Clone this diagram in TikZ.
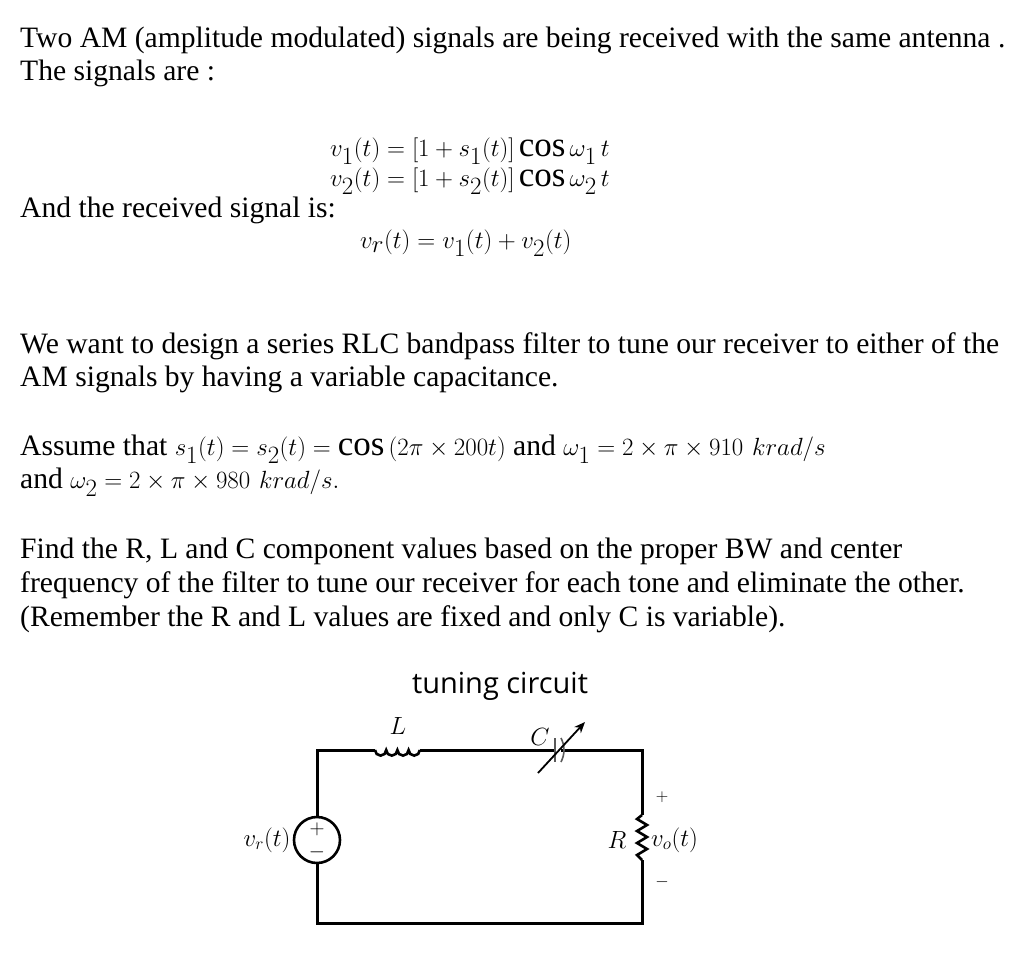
\documentclass[tikz,border=0pt]{standalone}
\usepackage{fontspec}
\setmainfont{Liberation Serif}
\newfontfamily\titlefont{Open Sans}
\usetikzlibrary{arrows.meta}
\newcommand{\bm}[1]{{\fontsize{35}{38}\selectfont$#1$}}
\newcommand{\mycos}{\mathop{\mathrm{cos}}}
\begin{document}
\begin{tikzpicture}[x=1pt,y=-1pt,
  txt/.style={anchor=west,inner sep=0pt,font=\fontsize{29.6}{33}\selectfont},
  wire/.style={line width=3pt},
  comp/.style={line width=2.6pt}]
\useasboundingbox (0,0) rectangle (1024,953);
\node[txt] (l1) at (20,40) {Two AM (amplitude modulated) signals are being received with the same antenna .};
\node[txt] (l2) at (20,73) {The signals are :};
\node[txt] (e1) at (330,151) {\bm{v_1(t)=[1+s_1(t)]\mycos\omega_1\, t}};
\node[txt] (e2) at (330,181) {\bm{v_2(t)=[1+s_2(t)]\mycos\omega_2\, t}};
\node[txt] (l3) at (20,210) {And the received signal is:};
\node[txt] (e3) at (360,243) {\bm{v_r(t)=v_1(t)+v_2(t)}};
\node[txt] (l4) at (20,346) {We want to design a series RLC bandpass filter to tune our receiver to either of the};
\node[txt] (l5) at (20,379) {AM signals by having a variable capacitance.};
\node[txt] (l6) at (20,449) {Assume that \bm{s_1(t)=s_2(t)=\mycos\,(2\pi\times200t)} and \bm{\omega_1=2\times\pi\times910\ krad/s}};
\node[txt] (l7) at (20,482) {and \bm{\omega_2=2\times\pi\times980\ krad/s.}};
\node[txt] (l8) at (20,551) {Find the R, L and C component values based on the proper BW and center};
\node[txt] (l9) at (20,585) {frequency of the filter to tune our receiver for each tone and eliminate the other.};
\node[txt] (l10) at (20,619) {(Remember the R and L values are fixed and only C is variable).};
\node[inner sep=0pt,font=\titlefont\fontsize{29}{32}\selectfont] (title) at (500,686) {tuning circuit};
% circuit
\coordinate (tl) at (317,750); \coordinate (tr) at (642,750);
\coordinate (bl) at (317,923); \coordinate (br) at (642,923);
\node[draw,circle,comp,minimum size=46pt,inner sep=0pt] (src) at (317,840) {};
\node[font=\fontsize{20}{22}\selectfont,inner sep=0pt] at (317,829) {$+$};
\node[font=\fontsize{20}{22}\selectfont,inner sep=0pt] at (317,852) {$-$};
\node[anchor=east,inner sep=2pt,font=\fontsize{27}{28}\selectfont] (vr) at (src.west) {$v_r(t)$};
\draw[wire] (src.north) -- (tl) -- (375,750);
\draw[comp] (375,750) arc[start angle=180,end angle=0,radius=5.6]
  arc[start angle=180,end angle=0,radius=5.6]
  arc[start angle=180,end angle=0,radius=5.6]
  arc[start angle=180,end angle=0,radius=5.6];
\draw[wire] (420,750) -- (555,750);
\draw[wire] (561,750) -- (tr) -- (642,815);
\draw[line width=1.6pt,gray!70!black] (555,738) -- (555,762);
\draw[line width=1.6pt,gray!70!black] (561,738) .. controls (565,746) and (565,754) .. (561,762);
\draw[line width=1.8pt,-{Stealth[length=11pt,width=9pt]}] (538,773) -- (585,722);
\node[font=\fontsize{27}{28}\selectfont,inner sep=0pt] (Cl) at (540,737) {$C$};
\node[font=\fontsize{27}{28}\selectfont,inner sep=0pt] (Ll) at (398,726) {$L$};
\draw[comp] (642,815) -- (637,819) -- (647,825) -- (637,831) -- (647,837) -- (637,843) -- (647,849) -- (637,855) -- (642,860);
\draw[wire] (642,860) -- (br) -- (bl) -- (src.south);
\node[font=\fontsize{27}{28}\selectfont,inner sep=0pt] (Rl) at (617,840) {$R$};
\node[anchor=west,font=\fontsize{27}{28}\selectfont,inner sep=0pt] (vo) at (651,840) {$v_o(t)$};
\node[font=\fontsize{18}{20}\selectfont,inner sep=0pt] (pl) at (662,797) {$+$};
\node[font=\fontsize{18}{20}\selectfont,inner sep=0pt] (mi) at (662,882) {$-$};
\end{tikzpicture}
\end{document}
